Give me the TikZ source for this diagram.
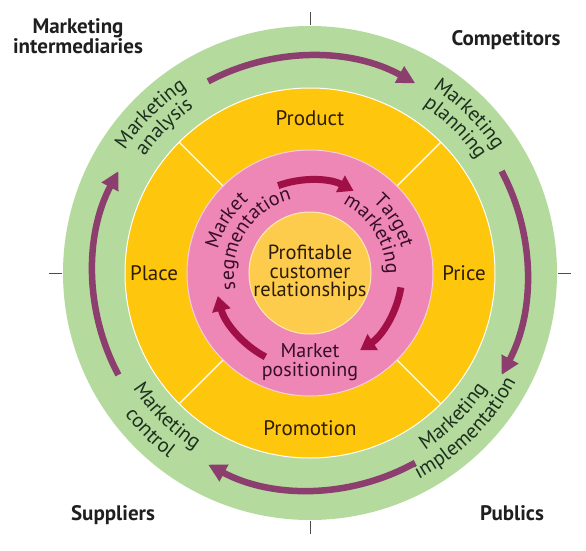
\documentclass[tikz,border=0pt]{standalone}
\usepackage{fontspec}
\setmainfont{PT Sans}
\usetikzlibrary{arrows.meta,decorations.text}
\definecolor{ringgreen}{RGB}{181,218,158}
\definecolor{ringyellow}{RGB}{254,198,12}
\definecolor{ringpink}{RGB}{238,134,182}
\definecolor{coreyellow}{RGB}{254,204,76}
\definecolor{arrowmauve}{RGB}{140,62,110}
\definecolor{arrowcrimson}{RGB}{160,16,70}
\definecolor{greentext}{RGB}{28,48,30}
\definecolor{pinktext}{RGB}{55,14,38}
\definecolor{yellowtext}{RGB}{45,28,8}
\newcommand{\ringfont}{\fontsize{21}{20}\selectfont}
\newcommand{\cornerfont}{\fontsize{21}{18}\selectfont\bfseries}
\newcommand{\greenfont}{\fontsize{20.5}{20}\selectfont\color{greentext}}
\newcommand{\pinkfont}{\fontsize{20}{20}\selectfont\color{pinktext}}
% text on an arc: centre angle, radius, text
\newcommand{\cwtext}[3]{\path[decorate,decoration={text along path,text align=center,text={#3}}]
  ({#1+60}:#2) arc[start angle={#1+60},end angle={#1-60},radius=#2];}
\newcommand{\ccwtext}[3]{\path[decorate,decoration={text along path,text align=center,text={#3}}]
  ({#1-60}:#2) arc[start angle={#1-60},end angle={#1+60},radius=#2];}

\begin{document}
\begin{tikzpicture}[x=1pt,y=1pt,
    outerarrow/.style={draw=arrowmauve,line width=6.5pt,-{Triangle[length=18pt,width=18pt]}},
    innerarrow/.style={draw=arrowcrimson,line width=7pt,-{Triangle[length=15pt,width=18pt]}},
    mix/.style={font=\ringfont,text=yellowtext,align=center},
    corner/.style={font=\cornerfont,text=black!88,align=center}]
  \useasboundingbox (-310,-277) rectangle (276,273);
  % rings
  \fill[ringgreen] (0,0) circle[radius=247];
  \draw[white,line width=1pt,fill=ringyellow] (0,0) circle[radius=185];
  \foreach \a in {45,135,225,315}
    \draw[white,line width=1.3pt] (\a:123) -- (\a:185);
  \draw[white!60!ringpink,line width=1pt,fill=ringpink] (0,0) circle[radius=123];
  \draw[white!60!coreyellow,line width=1pt,fill=coreyellow] (0,0) circle[radius=61];
  % ticks
  \foreach \a in {0,90,180,270}
    \draw[black!70,line width=0.7pt] (\a:248) -- (\a:261);
  % centre
  \node[mix,font=\fontsize{20.5}{18.5}\selectfont] (core) at (0,0) {Profitable\\customer\\relationships};
  % marketing mix
  \node[mix] (product) at (0,155) {Product};
  \node[mix] (promotion) at (0,-155) {Promotion};
  \node[mix] (place) at (-156,0) {Place};
  \node[mix] (price) at (154,0) {Price};
  % pink ring
  \cwtext{148}{95}{|\pinkfont|Market}
  \cwtext{148}{76}{|\pinkfont|segmentation}
  \cwtext{32}{95}{|\pinkfont|Target}
  \cwtext{32}{76}{|\pinkfont|marketing}
  \node[mix,text=pinktext,font=\fontsize{20}{19}\selectfont] (positioning) at (0,-89) {Market\\positioning};
  \draw[innerarrow] (110:93) arc[start angle=110,end angle=62,radius=93];
  \draw[innerarrow] (-9:92) arc[start angle=-9,end angle=-57,radius=92];
  \draw[innerarrow] (-118:95) arc[start angle=-118,end angle=-166,radius=95];
  % green ring
  \cwtext{135}{222}{|\greenfont|Marketing}
  \cwtext{135}{202}{|\greenfont|analysis}
  \cwtext{45}{222}{|\greenfont|Marketing}
  \cwtext{45}{202}{|\greenfont|planning}
  \ccwtext{-45}{211}{|\greenfont|Marketing}
  \ccwtext{-45}{233}{|\greenfont|implementation}
  \ccwtext{-135}{211}{|\greenfont|Marketing}
  \ccwtext{-135}{233}{|\greenfont|control}
  \draw[outerarrow] (118:217) arc[start angle=118,end angle=61,radius=217];
  \draw[outerarrow] (28:217) arc[start angle=28,end angle=-28,radius=217];
  \draw[outerarrow] (-61:217) arc[start angle=-61,end angle=-118,radius=217];
  \draw[outerarrow] (-152:217) arc[start angle=-152,end angle=-208,radius=217];
  % environment
  \node[corner] (intermediaries) at (-232,237) {Marketing\\intermediaries};
  \node[corner] (competitors) at (196,233) {Competitors};
  \node[corner] (suppliers) at (-197,-242) {Suppliers};
  \node[corner] (publics) at (202,-240) {Publics};
\end{tikzpicture}
\end{document}
